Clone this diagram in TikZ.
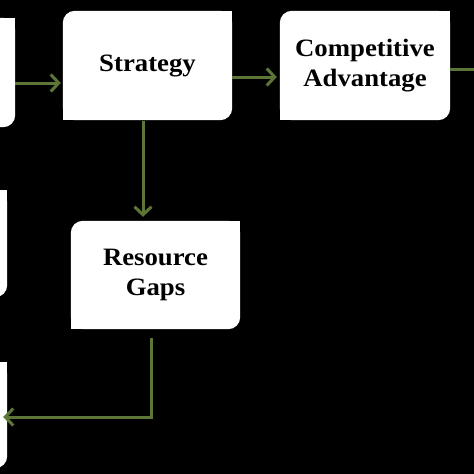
\documentclass[tikz,border=0pt]{standalone}
\usepackage{fontspec}
\setmainfont[FakeStretch=1.07]{Liberation Serif}
\usetikzlibrary{arrows.meta,backgrounds}
\definecolor{arrowgreen}{RGB}{94,117,56}
\tikzset{
  card/.style={inner sep=0pt, align=center, text=black,
    font=\fontsize{25}{29.5}\selectfont\bfseries},
  conn/.style={draw=arrowgreen, line width=3pt,
    -{Straight Barb[length=8pt,width=17pt]}},
  plainconn/.style={draw=arrowgreen, line width=3pt}
}
\newcommand\cardfill[1]{%
  \fill[white,rounded corners=12pt] (#1.south west) rectangle (#1.north east);
  \fill[white] (#1.north east) rectangle ++(-14pt,-14pt);
  \fill[white] (#1.south west) rectangle ++(14pt,14pt);}
\begin{document}
\begin{tikzpicture}[x=1pt,y=-1pt]
\useasboundingbox (0,0) rectangle (474,474);
\clip (0,0) rectangle (474,474);
% nodes
\node[card, minimum width=115pt, minimum height=109pt] (b1) at (-42.5,72.5) {};
\node[card, minimum width=107pt, minimum height=107pt] (b2) at (-46.5,243.5) {};
\node[card, minimum width=107pt, minimum height=106pt] (b3) at (-46.5,415) {};
\node[card, minimum width=169pt, minimum height=109pt] (strat) at (147.5,65.5) {Strategy};
\node[card, minimum width=170pt, minimum height=109pt] (ca) at (365,65.5) {Competitive\\Advantage};
\node[card, minimum width=169pt, minimum height=108pt] (rg) at (155.5,275) {Resource\\Gaps};
\coordinate (out) at (490,69);
\coordinate (bend) at (151,417);
\begin{pgfonlayer}{background}
  \fill[black] (-10,-10) rectangle (484,484);
  \cardfill{b1}\cardfill{b2}\cardfill{b3}
  \cardfill{strat}\cardfill{ca}\cardfill{rg}
\end{pgfonlayer}
% connectors
\draw[conn, shorten >=2pt] (b1.east |- 0,83) -- (strat.west |- 0,83);
\draw[conn, shorten >=3pt] (strat.east |- 0,77) -- (ca.west |- 0,77);
\draw[conn] (ca.east |- out) -- (out);
\draw[conn, shorten <=1pt, shorten >=4pt] (strat.south -| 143,0) -- (rg.north -| 143,0);
\draw[conn, shorten <=9pt, shorten >=-4pt] (rg.south -| bend) -- (bend) -- (b3.east |- bend);
\end{tikzpicture}
\end{document}
